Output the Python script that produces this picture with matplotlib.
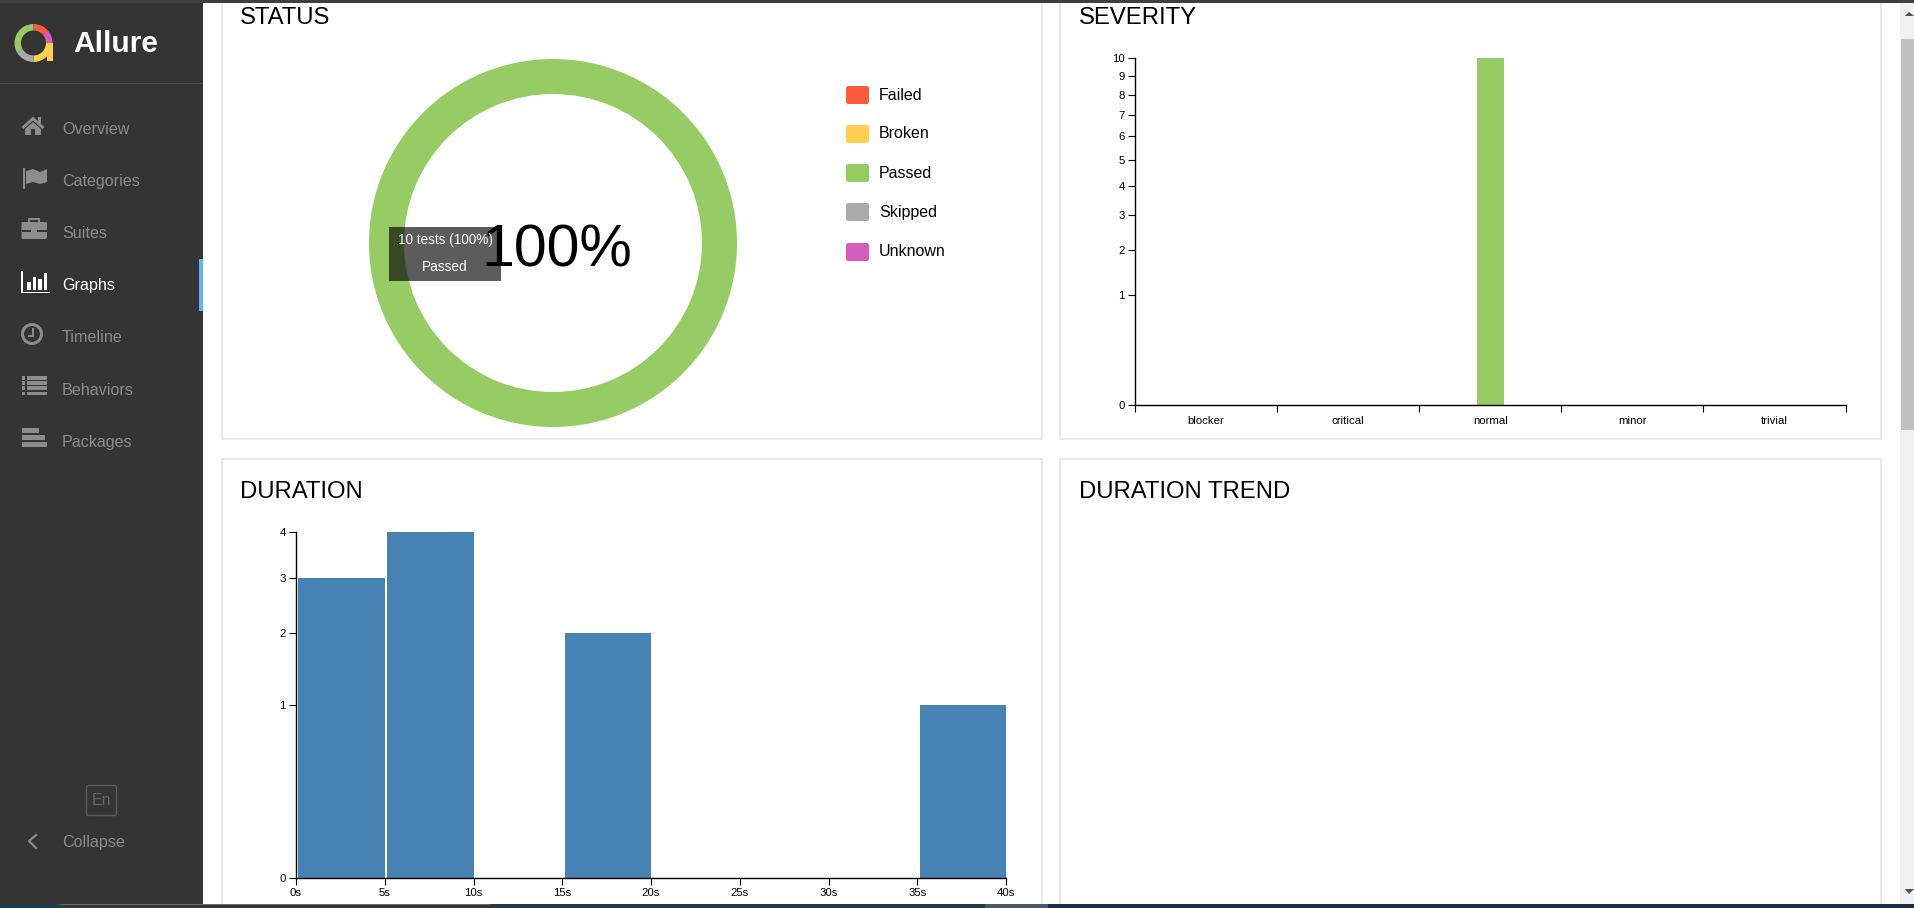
import numpy as np
import matplotlib
matplotlib.use("Agg")
import matplotlib.pyplot as plt
from matplotlib.patches import Rectangle, FancyBboxPatch, Wedge, Circle, Polygon

plt.rcParams["font.family"] = ["Liberation Sans", "DejaVu Sans"]

W, H = 1914, 908

# chart data
status_labels = ["Failed", "Broken", "Passed", "Skipped", "Unknown"]
status_counts = [0, 0, 10, 0, 0]
status_colors = ["#fd5a3e", "#ffd050", "#97cc64", "#aaaaaa", "#d35ebe"]

severity_labels = ["blocker", "critical", "normal", "minor", "trivial"]
severity_counts = [0, 0, 10, 0, 0]
severity_ticks = [0, 1, 2, 3, 4, 5, 6, 7, 8, 9, 10]

duration_starts = [0, 5, 15, 35]
duration_counts = [3, 4, 2, 1]
duration_xticks = [0, 5, 10, 15, 20, 25, 30, 35, 40]
duration_yticks = [0, 1, 2, 3, 4]

nav_items = ["Overview", "Categories", "Suites", "Graphs", "Timeline", "Behaviors", "Packages"]

NAV_GREY = "#8c8c8c"
SIDE_BG = "#343434"


def px_axes(x0, y0, x1, y1, **kw):
    return fig.add_axes([x0 / W, 1 - y1 / H, (x1 - x0) / W, (y1 - y0) / H], **kw)


def rect(ax, x0, y0, x1, y1, color, **kw):
    ax.add_patch(Rectangle((x0, y0), x1 - x0, y1 - y0, facecolor=color, edgecolor="none", **kw))


def style_axis(ax):
    ax.patch.set_alpha(0)
    for side in ["top", "right"]:
        ax.spines[side].set_visible(False)
    for side in ["left", "bottom"]:
        ax.spines[side].set_linewidth(1.0)
    ax.tick_params(which="both", length=5, width=0.8, labelsize=8.2, pad=2.5)


def draw_sidebar(ax):
    rect(ax, 0, 0, 203, H, SIDE_BG)
    rect(ax, 0, 83, 203, 84, "#4a4a4a")
    rect(ax, 199, 259, 203, 311, "#63b1f0")

    # logo ring
    cx, cy, r, w = 33.5, 43, 19, 6.5
    for t1, t2, col in [(150, 270, "#97cc64"), (270, 320, "#fd5a3e"), (320, 360, "#d35ebe"),
                        (0, 90, "#ffd050"), (90, 150, "#aaaaaa")]:
        ax.add_patch(Wedge((cx, cy), r, t1, t2, width=w, facecolor=col, edgecolor="none"))
    rect(ax, 46.5, 43, 52.5, 61, "#ffd050")
    ax.text(73, 44, "Allure", color="white", fontsize=21.5, fontweight="bold", va="center")

    # nav labels
    ys = [129.5, 181.5, 233.5, 285.5, 337.5, 390.5, 442.5]
    for name, y in zip(nav_items, ys):
        col = "white" if name == "Graphs" else NAV_GREY
        ax.text(62, y, name, color=col, fontsize=11.6, va="center")

    # home
    ax.add_patch(Polygon([(21.5, 127), (33, 116.5), (44.5, 127), (42.5, 129), (33, 120.5), (23.5, 129)], facecolor=NAV_GREY))
    ax.add_patch(Polygon([(25, 129), (33, 122), (41, 129), (41, 135), (35, 135), (35, 129),
                          (31, 129), (31, 135), (25, 135)], facecolor=NAV_GREY))
    rect(ax, 38, 117, 41, 123, NAV_GREY)
    # flag
    rect(ax, 23, 168, 24.5, 189, NAV_GREY)
    ax.add_patch(Polygon([(26, 171), (33, 169), (40, 172), (47, 169), (47, 182), (40, 184), (33, 182), (26, 184)],
                         facecolor=NAV_GREY))
    # briefcase
    ax.add_patch(FancyBboxPatch((21.5, 222), 25.5, 17, boxstyle="round,pad=0,rounding_size=1.5", facecolor=NAV_GREY, edgecolor="none"))
    ax.add_patch(Rectangle((28.5, 218.5), 10, 4, facecolor="none", edgecolor=NAV_GREY, linewidth=1.4))
    rect(ax, 21.5, 230, 47, 231.5, SIDE_BG)
    rect(ax, 31, 229.5, 36.5, 233.5, NAV_GREY)
    # graphs
    rect(ax, 21, 271, 22.5, 293, "white")
    rect(ax, 21, 291.5, 50, 293, "white")
    for x0, top in zip([27, 32.5, 38, 43.5], [282, 277, 279, 273]):
        rect(ax, x0, top, x0 + 3.8, 290, "white")
    # clock
    ax.add_patch(Circle((32, 334), 9.5, facecolor="none", edgecolor=NAV_GREY, linewidth=2.2))
    rect(ax, 32, 328, 33.5, 336, NAV_GREY)
    rect(ax, 28, 335, 33.5, 336.5, NAV_GREY)
    # behaviors
    for y in [376, 381.2, 386.4, 391.6]:
        rect(ax, 21.5, y, 25, y + 3.8, NAV_GREY)
        rect(ax, 27, y, 47, y + 3.8, NAV_GREY)
    # packages
    for y, x1 in [(428, 39), (435, 45), (442, 47)]:
        rect(ax, 21.5, y, x1, y + 5, NAV_GREY)

    # language button and collapse
    ax.add_patch(FancyBboxPatch((86.5, 785.5), 30, 30, boxstyle="round,pad=0,rounding_size=2",
                                facecolor="none", edgecolor="#5a5a5a", linewidth=1))
    ax.text(101.5, 800.5, "En", color="#666666", fontsize=11.5, ha="center", va="center")
    ax.plot([36, 29, 36], [835, 841, 848], color=NAV_GREY, linewidth=1.6)
    ax.text(62, 843, "Collapse", color=NAV_GREY, fontsize=11.6, va="center")


def draw_page(ax):
    # cards
    for x0, x1, y0, y1 in [(221.5, 1041.5, -5, 439), (1060, 1880.5, -5, 439),
                           (221.5, 1041.5, 459, H + 5), (1060, 1880.5, 459, H + 5)]:
        ax.add_patch(Rectangle((x0, y0), x1 - x0, y1 - y0, facecolor="white",
                               edgecolor="#e4e4e4", linewidth=1.1))
    ax.text(240, 18, "STATUS", fontsize=17.2, va="center", color="black")
    ax.text(1079, 18, "SEVERITY", fontsize=17.2, va="center", color="black")
    ax.text(240, 492, "DURATION", fontsize=17.2, va="center", color="black")
    ax.text(1079, 492, "DURATION TREND", fontsize=17.2, va="center", color="black")

    # scrollbar
    rect(ax, 1900, 3, W, 904, "#f1f1f1")
    rect(ax, 1901, 39, W, 430, "#c1c1c1")
    ax.add_patch(Polygon([(1905, 16), (1909, 12), (1914, 16)], facecolor="#505050"))
    ax.add_patch(Polygon([(1905, 889), (1909, 894), (1914, 889)], facecolor="#505050"))


def draw_frame(ax):
    # browser strip on top, taskbar at the bottom
    rect(ax, 0, 0, W, 3, "#3f3f3f")
    rect(ax, 0, 904, W, H, "#1d2d44")
    rect(ax, 0, 904, 60, H, "#1f3d47")
    rect(ax, 60, 904, 490, H, "#363636")
    rect(ax, 60, 904, 490, 905, "#6a6a6a")
    rect(ax, 490, 904, 985, H, "#243a44")
    rect(ax, 985, 904, 1048, H, "#4a5a60")


fig = plt.figure(figsize=(W / 100, H / 100), dpi=100, facecolor="white")

bg = fig.add_axes([0, 0, 1, 1], zorder=0)
bg.set_xlim(0, W)
bg.set_ylim(H, 0)
bg.axis("off")
draw_sidebar(bg)
draw_page(bg)

# status donut
ax_pie = px_axes(553 - 184, 243 - 184, 553 + 184, 243 + 184, zorder=1)
ax_pie.pie(status_counts, colors=status_colors, startangle=90, counterclock=False,
           wedgeprops=dict(width=35 / 184, edgecolor="none"), radius=1)
ax_pie.set_xlim(-1, 1)
ax_pie.set_ylim(-1, 1)
ax_pie.patch.set_alpha(0)

# severity bars, square root scale
ax_sev = px_axes(1135, 58, 1845.5, 405, zorder=1)
style_axis(ax_sev)
sev_pos = np.arange(len(severity_labels)) + 0.5
ax_sev.bar(sev_pos, severity_counts, width=0.19, color="#97cc64")
ax_sev.set_yscale("function", functions=(np.sqrt, np.square))
ax_sev.set_xlim(0, len(severity_labels))
ax_sev.set_ylim(0, 10)
ax_sev.set_yticks(severity_ticks, [str(t) for t in severity_ticks])
ax_sev.set_xticks(range(len(severity_labels) + 1), [""] * (len(severity_labels) + 1))
ax_sev.set_xticks(sev_pos, severity_labels, minor=True)
ax_sev.tick_params(axis="x", which="minor", length=0, pad=8)

# duration histogram, square root scale
ax_dur = px_axes(296, 532, 1006, 878, zorder=1)
style_axis(ax_dur)
gap = 0.13
ax_dur.bar(np.array(duration_starts) + gap, duration_counts, width=5 - gap, align="edge", color="#4682b4")
ax_dur.set_yscale("function", functions=(np.sqrt, np.square))
ax_dur.set_xlim(0, 40)
ax_dur.set_ylim(0, 4)
ax_dur.set_yticks(duration_yticks, [str(t) for t in duration_yticks])
ax_dur.set_xticks(duration_xticks, [f"{t}s" for t in duration_xticks])

# overlay: centre text, legend, tooltip
top = fig.add_axes([0, 0, 1, 1], zorder=5)
top.set_xlim(0, W)
top.set_ylim(H, 0)
top.axis("off")
top.text(557, 251, "100%", fontsize=42.5, ha="center", va="center", color="black")

legend_ys = [95, 134, 173, 212, 252]
for label, col, y in zip(status_labels, status_colors, legend_ys):
    top.add_patch(FancyBboxPatch((846, y - 9), 23, 18, boxstyle="round,pad=0,rounding_size=2.5",
                                 facecolor=col, edgecolor="none"))
    top.text(879, y, label, fontsize=11.5, va="center", color="black")

rect(top, 389, 227, 501, 281, "black", alpha=0.64)
top.text(445, 240, "10 tests (100%)", fontsize=9.8, color="white", ha="center", va="center")
top.text(445, 267, status_labels[2], fontsize=9.8, color="white", ha="center", va="center")

draw_frame(top)

fig.savefig("out.png", dpi=100)
